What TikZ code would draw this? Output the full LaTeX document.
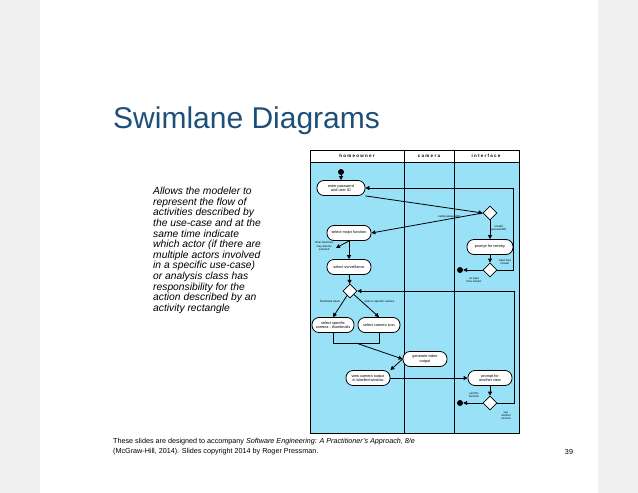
\documentclass[tikz,border=0pt]{standalone}
\usepackage{fontspec}
\setmainfont{Liberation Sans}
\usetikzlibrary{shapes.geometric,arrows.meta}
\definecolor{lane}{HTML}{99E1F7}
\definecolor{ttl}{HTML}{1F4E79}
\begin{document}
\begin{tikzpicture}[x=1pt,y=-1pt,
 act/.style={draw,thick,fill=white,rounded corners=7pt,minimum height=15pt,font=\fontsize{3.8}{4.3}\selectfont,align=center,inner sep=1pt},
 dec/.style={draw,thick,fill=white,diamond,minimum size=14pt,inner sep=0pt},
 dot/.style={circle,fill=black,minimum size=6pt,inner sep=0pt},
 lbl/.style={font=\fontsize{2.8}{3.2}\selectfont,align=center,inner sep=0.5pt},
 arr/.style={thick,-{Triangle[length=4pt,width=4pt]}}]
\fill[white] (0,0) rectangle (638,493);
\fill[gray!12] (0,0) rectangle (40,493);\fill[gray!12] (598,0) rectangle (638,493);
\node[anchor=west,text=ttl,font=\fontsize{30}{32}\selectfont,inner sep=0pt] (title) at (113,121) {Swimlane Diagrams};
\node[anchor=north west,align=left,font=\itshape\fontsize{10.3}{10.6}\selectfont,inner sep=0pt] (txt) at (153,187) {Allows the modeler to\\represent the flow of\\activities described by\\the use-case and at the\\same time indicate\\which actor (if there are\\multiple actors involved\\in a specific use-case)\\or analysis class has\\responsibility for the\\action described by an\\activity rectangle};
\node[anchor=north west,align=left,font=\fontsize{7.2}{10}\selectfont,inner sep=0pt] (foot) at (113,438) {These slides are designed to accompany \textit{Software Engineering: A Practitioner's Approach, 8/e}\\(McGraw-Hill, 2014). Slides copyright 2014 by Roger Pressman.};
\node[font=\fontsize{7.2}{9}\selectfont] (pg) at (569,452) {39};
% lanes
\fill[lane] (310,150) rectangle (519,433);
\fill[white] (310,150) rectangle (519,162);
\draw[thick] (310,150) rectangle (519,433);
\draw[thick] (310,162) -- (519,162);
\draw[thick] (404,150) -- (404,433);
\draw[thick] (454,150) -- (454,433);
\node[font=\bfseries\fontsize{4.5}{5}\selectfont] (h1) at (357,156) {h o m e o w n e r};
\node[font=\bfseries\fontsize{4.5}{5}\selectfont] (h2) at (429,156) {c a m e r a};
\node[font=\bfseries\fontsize{4.5}{5}\selectfont] (h3) at (486,156) {i n t e r f a c e};
% nodes
\node[dot] (s) at (341,172) {};
\node[act,minimum width=48pt] (pw) at (341,188) {enter password\\and user ID};
\node[dec] (d1) at (490,213) {};
\node[act,minimum width=44pt] (maj) at (349,233) {select major function};
\node[act,minimum width=46pt] (re) at (490,247) {prompt for reentry};
\node[dec] (d2) at (490,270) {};
\node[dot] (e1) at (460,270) {};
\node[act,minimum width=44pt] (sur) at (349,267) {select surveillance};
\node[dec] (d3) at (350,291) {};
\node[act,minimum width=42pt] (th) at (333,325) {select specific\\camera - thumbnails};
\node[act,minimum width=42pt] (ic) at (379,325) {select camera icon};
\node[act,minimum width=44pt] (gen) at (425,359) {generate video\\output};
\node[act,minimum width=44pt] (view) at (368,378) {view camera output\\in labelled window};
\node[act,minimum width=44pt] (pa) at (490,378) {prompt for\\another view};
\node[dec] (d4) at (490,403) {};
\node[dot] (e2) at (460,403) {};
\coordinate (e0) at (336,248);
\coordinate (mg) at (356,343);
% edges
\draw[arr] (s) -- (pw);
\draw[arr] (pw.south east) -- (d1.west);
\draw[arr] (d1.west) -- node[lbl,above,pos=0.3]{valid password/ID} (maj.east);
\draw[arr] (d1) -- node[lbl,right,pos=0.4]{invalid\\password/ID} (re);
\draw[arr] (re) -- (d2);
\draw[arr] (d2.west) -- (e1);
\draw[arr] (d2.east) -- (513,270) -- (513,188) -- (pw.east);
\node[lbl] (l1) at (505,262) {input tries\\remain};
\node[lbl] (l2) at (474,280) {no input\\tries remain};
\draw[arr] (maj) -- (sur);
\draw[arr] (maj.south) -- (e0);
\node[lbl,anchor=east] (l3) at (334,246) {other functions\\may also be\\selected};
\draw[arr] (sur) -- (d3);
\draw[arr] (d3) -- node[lbl,left,pos=0.3,xshift=-2pt]{thumbnail views} (th.north);
\draw[arr] (d3) -- node[lbl,right,pos=0.3,xshift=2pt]{select a specific camera} (ic.north);
\draw[thick] (th.south) -- (333,343) -- (379,343) -- (ic.south);
\draw[arr] (mg) -- (gen.west);
\draw[arr] (gen.west) -- (view.north east);
\draw[arr] (view.east) -- (pa.west);
\draw[arr] (pa) -- (d4);
\draw[arr] (d4.west) -- (e2);
\draw[arr] (d4.east) -- (514,403) -- (514,291) -- (d3.east);
\node[lbl] (l4) at (474,395) {exit this\\function};
\node[lbl] (l5) at (506,416) {see\\another\\camera};
\end{tikzpicture}
\end{document}
